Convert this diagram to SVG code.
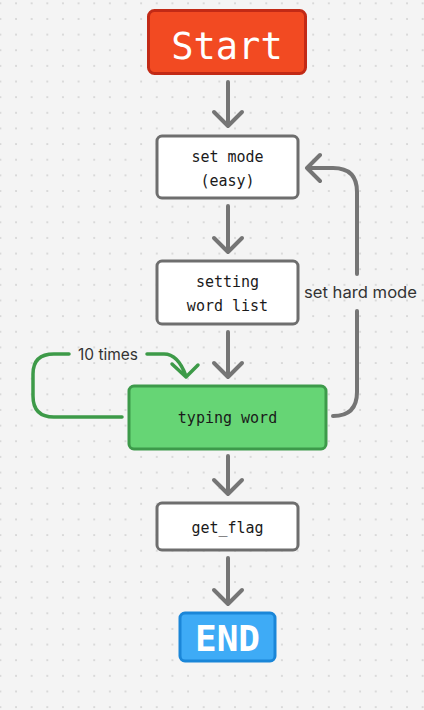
<svg xmlns="http://www.w3.org/2000/svg" width="424" height="710" viewBox="0 0 424 710">
<defs>
<pattern id="dots" patternUnits="userSpaceOnUse" x="8.18" y="-4.52" width="15.64" height="15.64">
<rect x="7.1" y="7.1" width="1.5" height="1.5" fill="#c6c6c6"/>
</pattern>
<style>
.box{fill:#ffffff;stroke:#6e6e6e;stroke-width:3}
.lbl{font-family:"DejaVu Sans Mono","Liberation Mono",monospace;font-size:15px;fill:#1a1a1a;text-anchor:middle}
.edge{fill:none;stroke:#757575;stroke-width:4;stroke-linecap:round;stroke-linejoin:round}
.gedge{fill:none;stroke:#3d9a48;stroke-width:3.5;stroke-linecap:round;stroke-linejoin:round}
.elbl{font-family:Inter,"Noto Sans",sans-serif;font-size:15.5px;fill:#333}
</style>
</defs>
<rect width="424" height="710" fill="#f4f4f4"/>
<rect width="424" height="710" fill="url(#dots)"/>

<g id="connectors">
<path class="edge" d="M228 82 V126 M214 112 L228 126 L242 112"/>
<path class="edge" d="M228 206 V252 M214 238 L228 252 L242 238"/>
<path class="edge" d="M228 332 V377 M214 363 L228 377 L242 363"/>
<path class="edge" d="M228 456 V494 M214 480 L228 494 L242 480"/>
<path class="edge" d="M228 558 V604 M214 590 L228 604 L242 590"/>
<path class="edge" d="M333 416 Q357 416 357 392 V311 M357 274 V192 Q357 168 333 168 H307 M320 155 L307 168 L320 181"/>
<text class="elbl" x="304" y="298" textLength="113" lengthAdjust="spacingAndGlyphs">set hard mode</text>
<path class="gedge" d="M122 417 H54 Q33 417 33 396 V374 Q33 354 54 354 H69 M147 354 H164 Q178 354 186 376 M172 364 L186 377 L198 365"/>
<text class="elbl" x="78" y="360" textLength="60" lengthAdjust="spacingAndGlyphs">10 times</text>
</g>

<g id="start">
<rect x="148.5" y="10.5" width="157" height="63" rx="6" fill="#f24a22" stroke="#c22a16" stroke-width="3"/>
<text x="227" y="59" font-family="DejaVu Sans Mono,Liberation Mono,monospace" font-size="37" fill="#ffffff" text-anchor="middle">Start</text>
</g>

<g id="set-mode">
<rect class="box" x="157" y="136" width="141" height="62" rx="5"/>
<text class="lbl" x="227.5" y="162">set mode</text>
<text class="lbl" x="227.5" y="186">(easy)</text>
</g>

<g id="setting-word-list">
<rect class="box" x="157" y="261" width="141" height="63" rx="5"/>
<text class="lbl" x="227.5" y="287">setting</text>
<text class="lbl" x="227.5" y="311">word list</text>
</g>

<g id="typing-word">
<rect x="129" y="386" width="197" height="63" rx="5" fill="#66d575" stroke="#3d9a4a" stroke-width="3"/>
<text class="lbl" x="227.5" y="423">typing word</text>
</g>

<g id="get-flag">
<rect class="box" x="157" y="503" width="141" height="47" rx="5"/>
<text class="lbl" x="227.5" y="533">get_flag</text>
</g>

<g id="end">
<rect x="180" y="613" width="95" height="48" rx="5" fill="#3eabf6" stroke="#1a86d8" stroke-width="3"/>
<text x="227.5" y="651" font-family="DejaVu Sans Mono,Liberation Mono,monospace" font-size="36" font-weight="bold" fill="#ffffff" text-anchor="middle">END</text>
</g>
</svg>
